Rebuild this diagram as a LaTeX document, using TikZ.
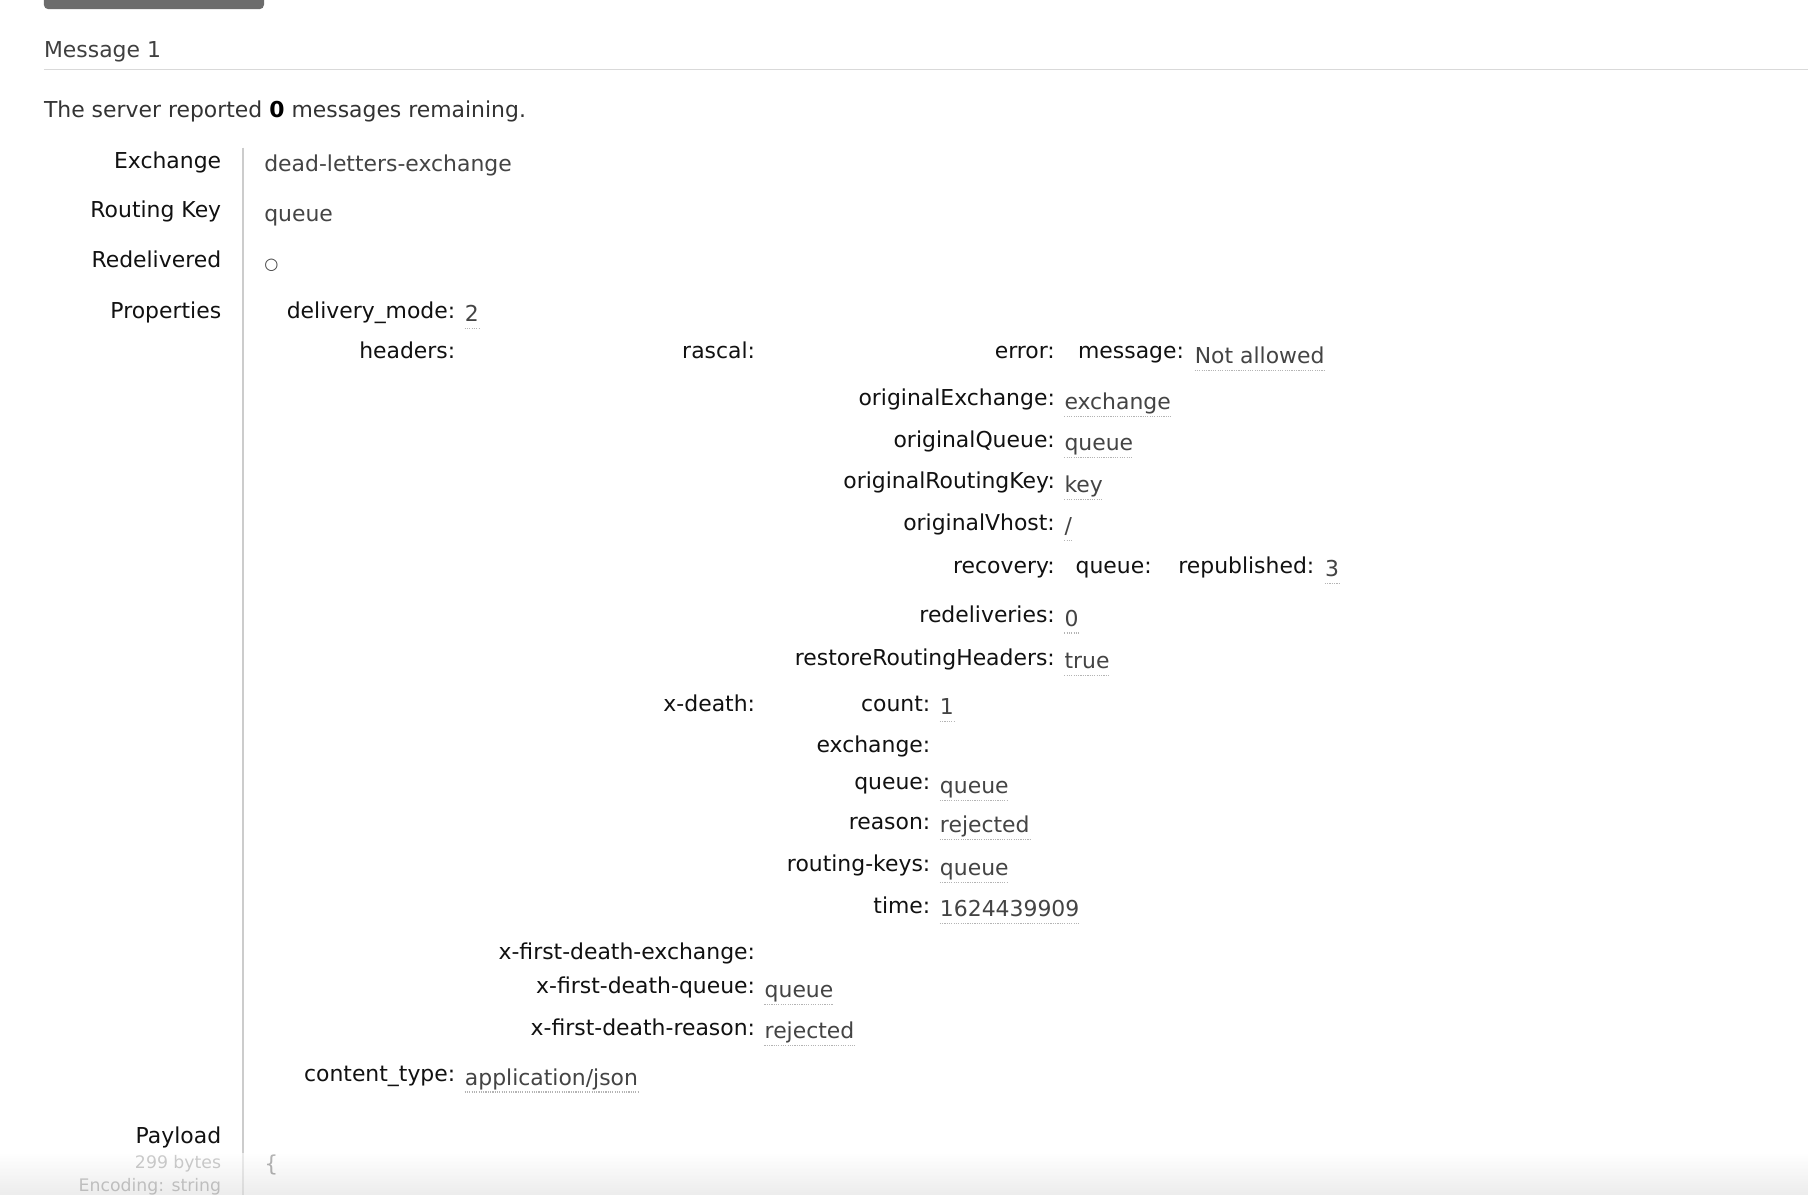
\documentclass[tikz,border=0pt]{standalone}
\usepackage{fontspec}
\setmainfont{DejaVu Sans}
\definecolor{valc}{HTML}{444444}
\definecolor{keyc}{HTML}{111111}
\newcommand\myval[4]{\node[vl] (#1) at (#2,#3) {#4};
 \draw[valc!40,densely dotted,line width=1pt] ([yshift=-6pt]#1.base west) -- ([yshift=-6pt]#1.base east);}
\begin{document}
\begin{tikzpicture}[x=1pt,y=-1pt,
 ky/.style={anchor=base east,inner sep=0pt,text=keyc,font=\fontsize{19}{22}\selectfont},
 vl/.style={anchor=base west,inner sep=0pt,text=valc,font=\fontsize{19}{22}\selectfont},
 sm/.style={anchor=base east,inner sep=0pt,text=gray,font=\fontsize{15}{18}\selectfont}]
\useasboundingbox (0,0) rectangle (1568,1036);
\fill[white] (0,0) rectangle (1568,1036);
\fill[gray!85!black,rounded corners=4pt] (38,-10) rectangle (229,8);
\node[vl,text=black!75] (msg) at (38,50) {Message 1};
\draw[black!15,line width=1pt] (38,60) -- (1568,60);
\node[vl,text=black!80] (srv) at (38,102) {The server reported \textcolor{black}{\textbf{0}} messages remaining.};
\draw[black!20,line width=1.5pt] (211,128) -- (211,1036);
\node[ky] (k1) at (192,146) {Exchange};
\node[ky] (k2) at (192,189) {Routing Key};
\node[ky] (k3) at (192,232) {Redelivered};
\node[ky] (k4) at (192,276) {Properties};
\node[ky] (k5) at (192,992) {Payload};
\node[sm] (k6) at (192,1013) {299 bytes};
\node[sm] (k7) at (192,1033) {Encoding: string};
\node[vl] (v1) at (229,149) {dead-letters-exchange};
\node[vl] (v2) at (229,192) {queue};
\node[vl,font=\fontsize{14}{16}\selectfont] (v3) at (229,234) {○};
\node[vl] (v4) at (229,1016) {\{};
\node[ky] (p1) at (395,276) {delivery\_mode:}; \myval{pv1}{403}{279}{2}
\node[ky] (p2) at (395,311) {headers:};
\node[ky] (p3) at (655,311) {rascal:};
\node[ky] (p4) at (915,311) {error:};
\node[ky] (p5) at (1027,311) {message:}; \myval{pv5}{1036}{315}{Not allowed}
\node[ky] (p6) at (915,352) {originalExchange:}; \myval{pv6}{923}{355}{exchange}
\node[ky] (p7) at (915,388) {originalQueue:}; \myval{pv7}{923}{391}{queue}
\node[ky] (p8) at (915,424) {originalRoutingKey:}; \myval{pv8}{923}{427}{key}
\node[ky] (p9) at (915,460) {originalVhost:}; \myval{pv9}{923}{463}{/}
\node[ky] (p10) at (915,497) {recovery:};
\node[ky] (p11) at (999,497) {queue:};
\node[ky] (p12) at (1140,497) {republished:}; \myval{pv12}{1149}{500}{3}
\node[ky] (p13) at (915,540) {redeliveries:}; \myval{pv13}{923}{543}{0}
\node[ky] (p14) at (915,577) {restoreRoutingHeaders:}; \myval{pv14}{923}{580}{true}
\node[ky] (p15) at (655,617) {x-death:};
\node[ky] (p16) at (807,617) {count:}; \myval{pv16}{815}{620}{1}
\node[ky] (p17) at (807,653) {exchange:};
\node[ky] (p18) at (807,685) {queue:}; \myval{pv18}{815}{688}{queue}
\node[ky] (p19) at (807,719) {reason:}; \myval{pv19}{815}{722}{rejected}
\node[ky] (p20) at (807,756) {routing-keys:}; \myval{pv20}{815}{759}{queue}
\node[ky] (p21) at (807,792) {time:}; \myval{pv21}{815}{795}{1624439909}
\node[ky] (p22) at (655,832) {x-first-death-exchange:};
\node[ky] (p23) at (655,862) {x-first-death-queue:}; \myval{pv23}{663}{865}{queue}
\node[ky] (p24) at (655,898) {x-first-death-reason:}; \myval{pv24}{663}{901}{rejected}
\node[ky] (p25) at (395,938) {content\_type:}; \myval{pv25}{403}{941}{application/json}
\shade[top color=white,bottom color=black!12,opacity=0.6] (0,1000) rectangle (1568,1036);
\end{tikzpicture}
\end{document}
